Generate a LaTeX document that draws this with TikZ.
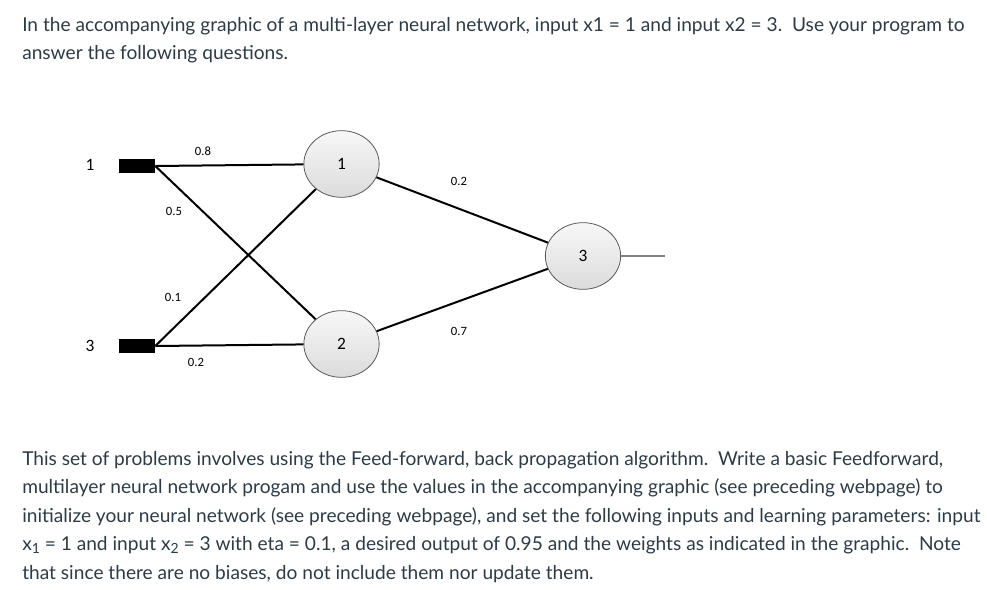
\documentclass[tikz,border=0pt]{standalone}
\usepackage{fontspec}
\setmainfont{Lato}
\newfontfamily\labfont{Carlito}
\usetikzlibrary{shapes.geometric}
\definecolor{txt}{HTML}{2D3B45}
\definecolor{nodeedge}{HTML}{5A5A5A}
\tikzset{
  para/.style={anchor=base west, inner sep=0pt, text=txt, font=\fontsize{14.35pt}{16pt}\selectfont},
  neuron/.style={ellipse, draw=nodeedge, line width=0.6pt, top color=gray!6, bottom color=gray!28,
     minimum width=56.5pt, minimum height=50pt, inner sep=0pt, font=\labfont\fontsize{13pt}{15pt}\selectfont},
  inbox/.style={rectangle, fill=black, draw=none, minimum width=27pt, minimum height=10.5pt, inner sep=0pt},
  wlab/.style={inner sep=0pt, font=\labfont\fontsize{9.5pt}{11pt}\selectfont},
  inlab/.style={inner sep=0pt, font=\labfont\fontsize{13pt}{15pt}\selectfont},
  conn/.style={line width=1.5pt, black},
}
\newcommand{\subn}[1]{\raisebox{-0.35ex}{\fontsize{10.5pt}{11pt}\selectfont #1}}
\begin{document}
\begin{tikzpicture}[x=0.75pt,y=-0.75pt]
\useasboundingbox (0,0) rectangle (987,589);
% top text
\node[para] (t1) at (22,31) {In the accompanying graphic of a multi-layer neural network, input x1 = 1 and input x2 = 3.\ \ Use your program to};
\node[para] (t2) at (22,59) {answer the following questions.};
% diagram
\node[inbox] (b1) at (137,166) {};
\node[inbox] (b2) at (137,346) {};
\node[inlab] (l1) at (90,165) {1};
\node[inlab] (l2) at (90,346) {3};
\node[neuron] (n1) at (341.5,164) {1};
\node[neuron] (n2) at (341.5,344) {2};
\node[neuron] (n3) at (583,256) {3};
\coordinate (out) at (665,256);
\draw[conn] (b1.east) -- (n1);
\draw[conn] (b1.east) -- (n2);
\draw[conn] (b2.east) -- (n1);
\draw[conn] (b2.east) -- (n2);
\draw[conn] (n1) -- (n3);
\draw[conn] (n2) -- (n3);
\draw[gray, line width=0.8pt] (n3.east) -- (out);
\node[wlab] (w1) at (203,151) {0.8};
\node[wlab] (w2) at (174,211) {0.5};
\node[wlab] (w3) at (173,297) {0.1};
\node[wlab] (w4) at (196,362) {0.2};
\node[wlab] (w5) at (459,181) {0.2};
\node[wlab] (w6) at (459,331) {0.7};
% bottom text
\node[para] (p1) at (22,465) {This set of problems involves using the Feed-forward, back propagation algorithm.\ \ Write a basic Feedforward,};
\node[para] (p2) at (22,493.5) {multilayer neural network progam and use the values in the accompanying graphic (see preceding webpage) to};
\node[para] (p3) at (22,522) {initialize your neural network (see preceding webpage), and set the following inputs and learning parameters: input};
\node[para] (p4) at (22,550.5) {x\subn{1} = 1 and input x\subn{2} = 3 with eta = 0.1, a desired output of 0.95 and the weights as indicated in the graphic.\ \ Note};
\node[para] (p5) at (22,579) {that since there are no biases, do not include them nor update them.};
\end{tikzpicture}
\end{document}
